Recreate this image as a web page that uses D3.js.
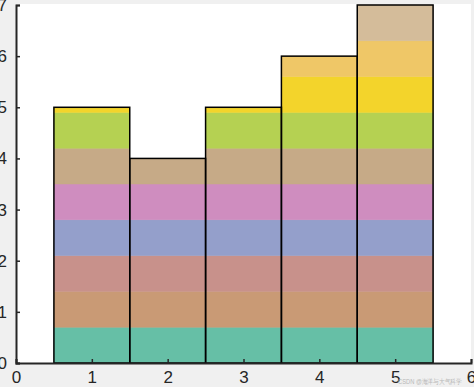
<!DOCTYPE html>
<html>
<head>
<meta charset="utf-8">
<script src="https://cdn.jsdelivr.net/npm/d3@7"></script>
<style>
  body { margin: 0; background: #f0f0f0; }
  svg { display: block; font-family: "Liberation Sans", Arial, sans-serif; }
</style>
</head>
<body>
<div id="chart"></div>
<script>
// bar positions and stacked segment values (each layer 0.7 until the total is reached)
var categories = [1, 2, 3, 4, 5];
var segments = [
    [0.7, 0.7, 0.7, 0.7, 0.7, 0.7, 0.7, 0.1],
    [0.7, 0.7, 0.7, 0.7, 0.7, 0.5],
    [0.7, 0.7, 0.7, 0.7, 0.7, 0.7, 0.7, 0.1],
    [0.7, 0.7, 0.7, 0.7, 0.7, 0.7, 0.7, 0.7, 0.4],
    [0.7, 0.7, 0.7, 0.7, 0.7, 0.7, 0.7, 0.7, 0.7, 0.7]
];
var layerColors = ["#66bfa6", "#c99a75", "#c8918b", "#949fcb", "#cf8dbf",
                   "#c6aa87", "#b5d152", "#f3d42b", "#efc767", "#d4bc9a"];
var xTicks = [0, 1, 2, 3, 4, 5, 6];
var yTicks = [0, 1, 2, 3, 4, 5, 6, 7];

var W = 474, H = 387;
var m = {left: 16, right: 3, top: 5, bottom: 24};

var svg = d3.select("#chart").append("svg")
    .attr("width", W)
    .attr("height", H);

var x = d3.scaleLinear().domain([0, 6]).range([m.left, W - m.right]);
var y = d3.scaleLinear().domain([0, 7]).range([H - m.bottom, m.top]);

// white axes background
svg.append("rect")
    .attr("x", x(0)).attr("y", y(7) - 1)
    .attr("width", x(6) - x(0)).attr("height", y(0) - y(7) + 1)
    .style("fill", "white");

// build stacked rects
var rects = [];
segments.forEach(function (segs, i) {
    var acc = 0;
    segs.forEach(function (v, j) {
        rects.push({c: categories[i], y0: acc, y1: acc + v, layer: j});
        acc += v;
    });
});

svg.append("g").selectAll("rect")
    .data(rects)
    .enter().append("rect")
    .attr("x", function (d) { return x(d.c - 0.5); })
    .attr("width", function (d) { return x(d.c + 0.5) - x(d.c - 0.5); })
    .attr("y", function (d) { return y(d.y1); })
    .attr("height", function (d) { return y(d.y0) - y(d.y1); })
    .style("fill", function (d) { return layerColors[d.layer]; })
    .style("stroke", function (d) { return layerColors[d.layer]; })
    .style("stroke-width", 0.5);

// bar outlines
svg.append("g").selectAll("rect")
    .data(segments)
    .enter().append("rect")
    .attr("x", function (d, i) { return x(categories[i] - 0.5); })
    .attr("width", function (d, i) { return x(categories[i] + 0.5) - x(categories[i] - 0.5); })
    .attr("y", function (d) { return y(d3.sum(d)); })
    .attr("height", function (d) { return y(0) - y(d3.sum(d)); })
    .style("fill", "none")
    .style("stroke", "black")
    .style("stroke-width", 1.5);

// axes, ticks inward like matlab
var xAxis = d3.axisBottom(x).tickValues(xTicks).tickSize(-4).tickPadding(10).tickFormat(d3.format("d"));
var yAxis = d3.axisLeft(y).tickValues(yTicks).tickSize(-4).tickPadding(9).tickFormat(d3.format("d"));

var gx = svg.append("g")
    .attr("transform", "translate(0," + y(0) + ")")
    .call(xAxis);
var gy = svg.append("g")
    .attr("transform", "translate(" + x(0) + ",0)")
    .call(yAxis);

[gx, gy].forEach(function (g) {
    g.select(".domain").attr("stroke", "#262626").attr("stroke-width", 2);
    g.selectAll(".tick line").attr("stroke", "#262626").attr("stroke-width", 1.5);
    g.selectAll(".tick text").attr("fill", "#262626").style("font-size", "17px");
});
gx.selectAll(".tick text").attr("dy", "0.6em");

// watermark
svg.append("text")
    .attr("x", 398).attr("y", 384)
    .attr("textLength", 64)
    .attr("lengthAdjust", "spacingAndGlyphs")
    .style("font-size", "7px")
    .style("fill", "#b8b8b8")
    .text("CSDN @海洋与大气科学");
</script>
</body>
</html>
